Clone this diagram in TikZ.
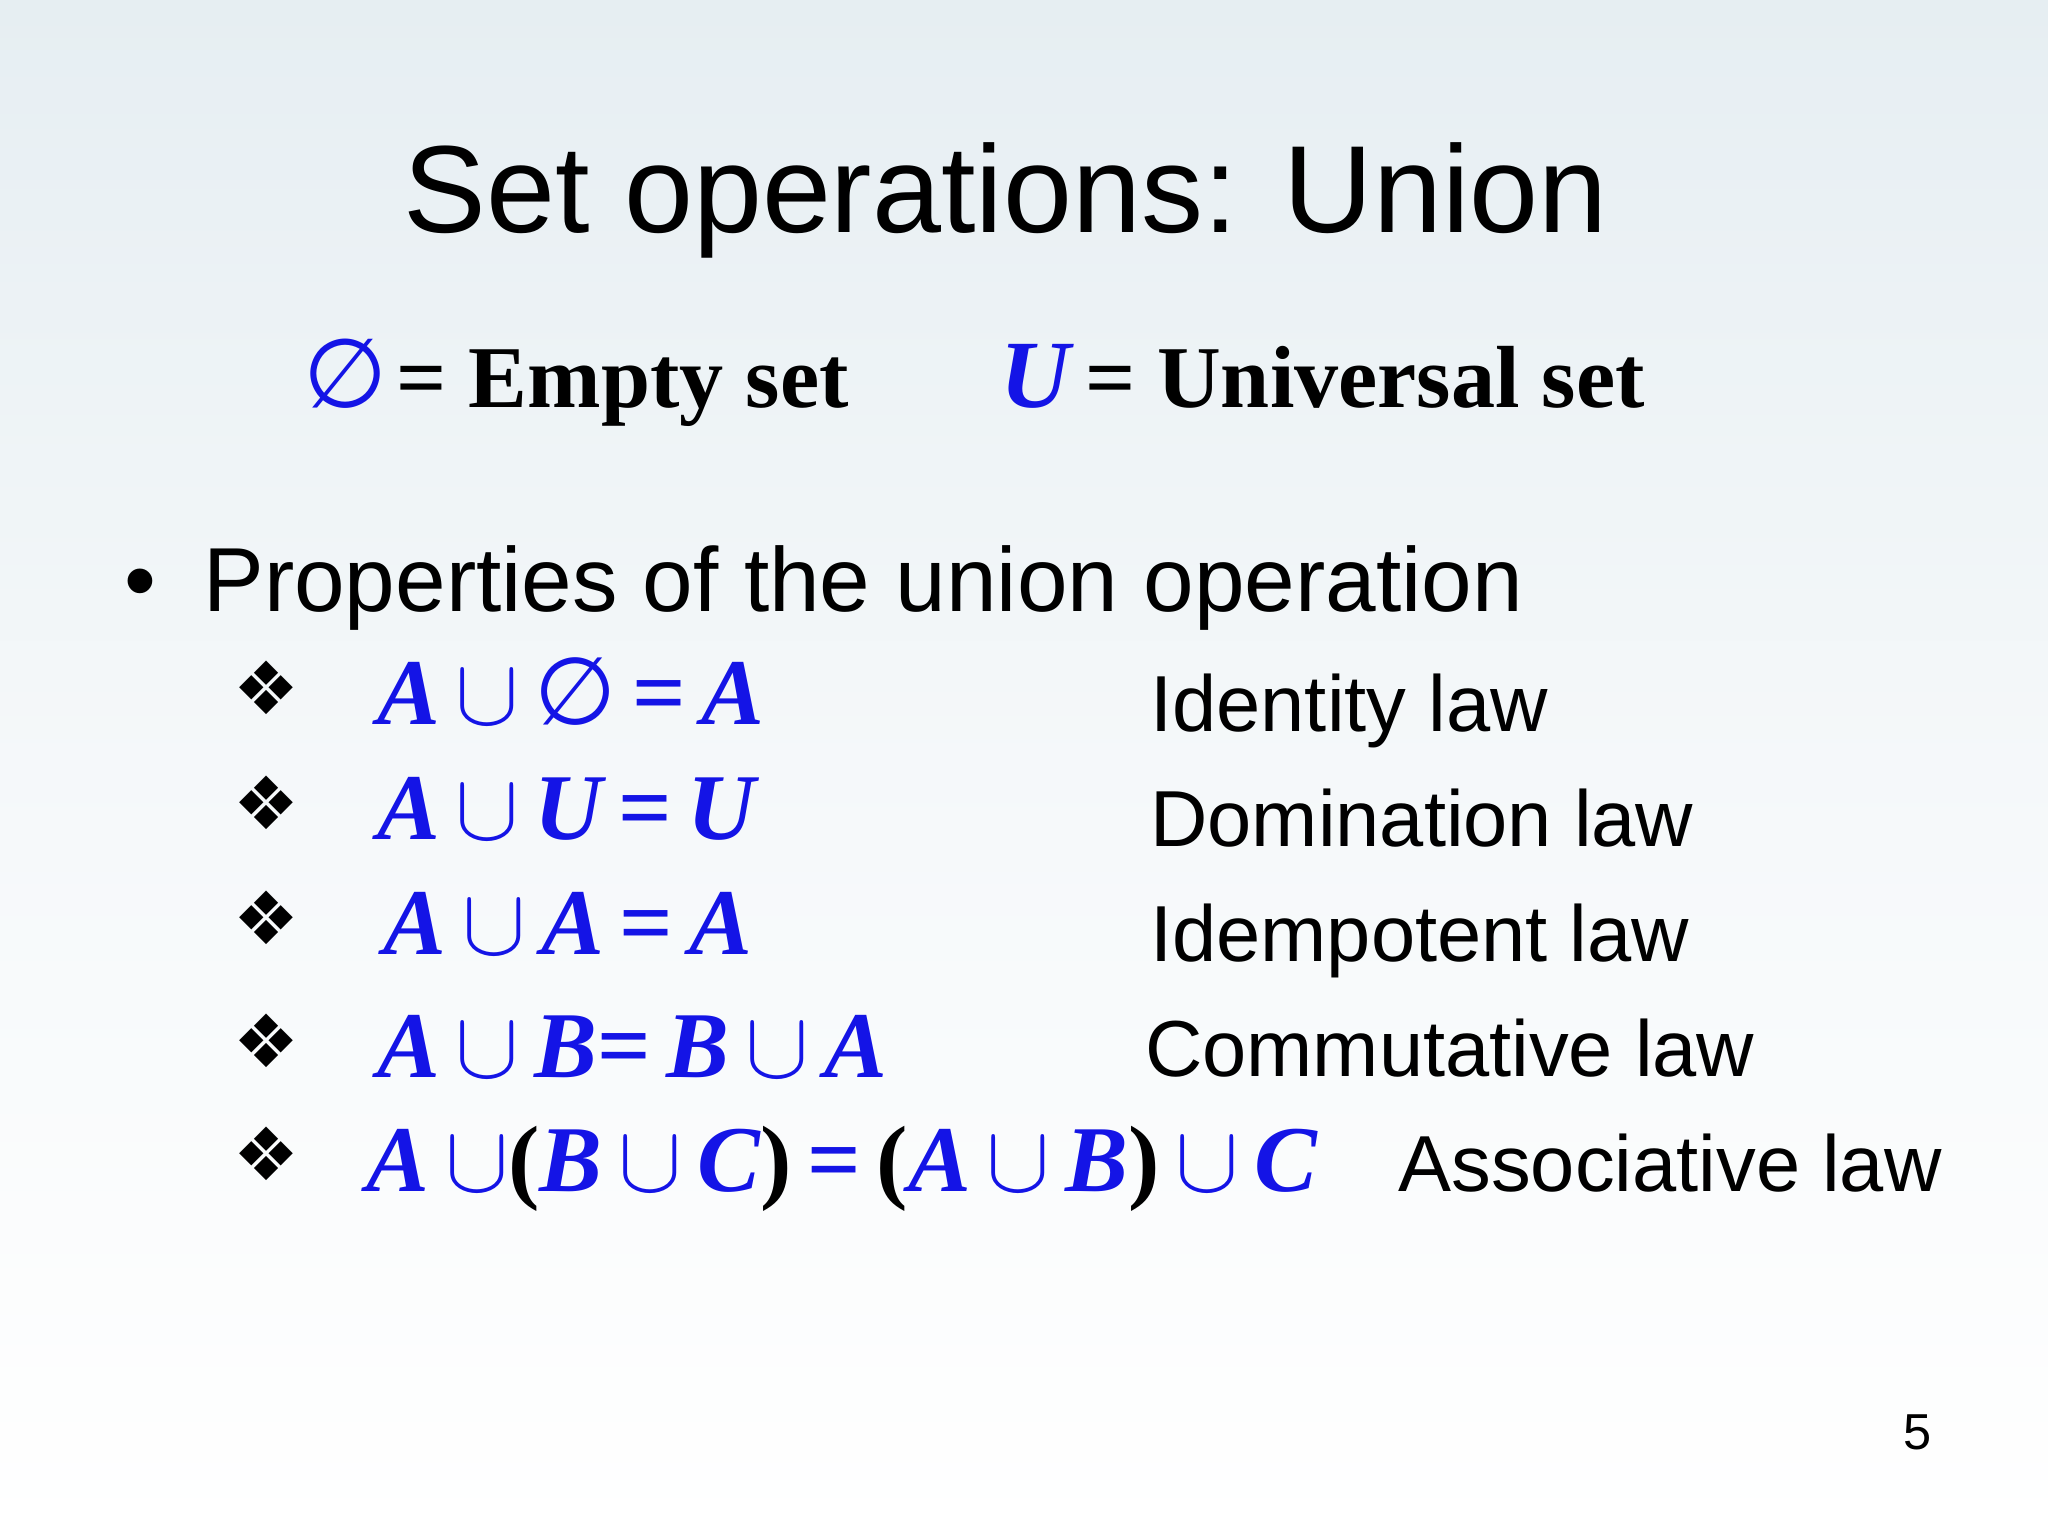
\documentclass[tikz,border=0pt]{standalone}
\usepackage{fontspec}
\setmainfont{Liberation Sans}
\newfontfamily\tms{Liberation Serif}
\newfontfamily\dvs{DejaVu Sans}
\definecolor{mblue}{RGB}{20,20,230}
\definecolor{bgtop}{RGB}{230,238,242}
\newcommand{\mv}[1]{{\color{mblue}\tms\bfseries\itshape #1}}
\newcommand{\un}{{\color{mblue}$\cup$}}
\newcommand{\es}{{\color{mblue}\dvs ∅}}
\newcommand{\eq}{{\color{mblue}\tms\bfseries =}}
\newcommand{\pa}[1]{{\tms\bfseries #1}}
\begin{document}
\begin{tikzpicture}[x=0.01cm,y=-0.01cm,
  lbl/.style={anchor=base west,inner sep=0pt},
  mth/.style={lbl,font=\fontsize{20.5}{24}\selectfont},
  law/.style={lbl,font=\fontsize{17.3}{21}\selectfont},
  dia/.style={lbl,font=\dvs\fontsize{16}{20}\selectfont}]
\shade[top color=bgtop,bottom color=white,middle color=white!60!bgtop] (0,0) rectangle (1568,1176);
\useasboundingbox (0,0) rectangle (1568,1176);
\node[anchor=base,inner sep=0pt,font=\fontsize{27}{32}\selectfont] (title) at (770,178) {Set operations: Union};
\node[lbl,font=\fontsize{21}{26}\selectfont] (es) at (232,312) {\es};
\node[lbl,font=\tms\bfseries\fontsize{19.2}{23}\selectfont] (est) at (303,312) {= Empty set};
\node[lbl,font=\fontsize{21}{26}\selectfont] (u) at (765,312) {\mv{U}};
\node[lbl,font=\tms\bfseries\fontsize{19.2}{23}\selectfont] (ust) at (830,312) {= Universal set};
\node[lbl,font=\fontsize{19.8}{24}\selectfont] (bul) at (95,468) {\textbullet};
\node[lbl,font=\fontsize{19.8}{24}\selectfont] (prop) at (155,468) {Properties of the union operation};
\foreach \y/\n in {555/a,643/b,731/c,825/d,912/e}{
  \node[dia] (d\n) at (178,\y-8) {❖};
}
\node[mth] (m1) at (288,555) {\mv{A}\,\un\,\es\,\eq\,\mv{A}};
\node[mth] (m2) at (288,643) {\mv{A}\,\un\,\mv{U}\,\eq\,\mv{U}};
\node[mth] (m3) at (293,731) {\mv{A}\,\un\,\mv{A}\,\eq\,\mv{A}};
\node[mth] (m4) at (288,825) {\mv{A}\,\un\,\mv{B}\eq\,\mv{B}\,\un\,\mv{A}};
\node[mth] (m5) at (280,912) {\mv{A}\,\un\pa{(}\mv{B}\,\un\,\mv{C}\pa{)}\,\eq\,\pa{(}\mv{A}\,\un\,\mv{B}\pa{)}\,\un\,\mv{C}};
\node[law] (l1) at (880,560) {Identity law};
\node[law] (l2) at (880,648) {Domination law};
\node[law] (l3) at (880,736) {Idempotent law};
\node[law] (l4) at (876,824) {Commutative law};
\node[law] (l5) at (1070,912) {Associative law};
\node[lbl,font=\fontsize{11}{13}\selectfont] (pg) at (1457,1110) {5};
\end{tikzpicture}
\end{document}
